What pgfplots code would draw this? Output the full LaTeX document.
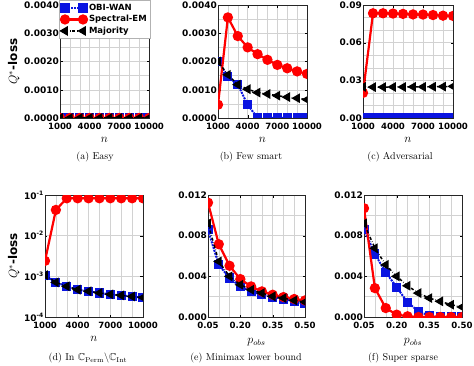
\documentclass[border=0pt]{standalone}
\usepackage{pgfplots}
\pgfplotsset{compat=1.18}
\usepackage{amssymb}
\usepackage{fontspec}
\newfontfamily\dvs{DejaVu Sans}
\definecolor{obiblue}{RGB}{10,20,225}
\pgfplotsset{
  panel/.style={scale only axis, anchor=north west,
    grid=both, grid style={gray!35,line width=0.4pt},
    minor grid style={gray!35,line width=0.4pt},
    axis line style={black!85,line width=0.6pt},
    tick align=inside, major tick length=2.5pt, minor tick length=0pt,
    tick style={black},
    tick label style={font=\dvs\bfseries\fontsize{9}{10}\selectfont},
    xticklabel style={inner sep=1pt, font=\dvs\bfseries\fontsize{8.6}{10}\selectfont, yshift=-4pt},
    yticklabel style={inner sep=1pt},
    /pgf/number format/assume math mode=true,
    scaled ticks=false,
    clip marker paths=true,
    xlabel style={font=\fontsize{12}{13}\selectfont, at={(axis description cs:0.5,0)}, anchor=center},
    ylabel style={font=\dvs\bfseries\fontsize{12}{13}\selectfont},
  },
  nax/.style={xmin=1000,xmax=10000, xtick={1000,4000,7000,10000},
    xticklabels={1000,4000,7000,10000}, minor x tick num=2, xlabel={$n$},
    xlabel style={yshift=-22pt}},
  pax/.style={xmin=0.05,xmax=0.5, xtick={0.05,0.2,0.35,0.5},
    xticklabels={0.05,0.20,0.35,0.50}, minor x tick num=2, xlabel={$p_{obs}$},
    xlabel style={yshift=-25pt},
    ymin=0,ymax=0.012, ytick={0,0.004,0.008,0.012},
    yticklabels={0.000,0.004,0.008,0.012}, minor y tick num=1},
  obi/.style={color=obiblue, densely dotted, line width=2pt, mark=square*, mark size=3.6pt, mark options={solid}},
  spec/.style={color=red, solid, line width=2.2pt, mark=*, mark size=4pt},
  maj/.style={color=black, dashdotted, line width=1.5pt, mark=triangle*, mark size=4.2pt, mark options={solid, rotate=90}},
}
\begin{document}
\begin{tikzpicture}
\useasboundingbox (0pt,0pt) rectangle (474pt,-365pt);
% (a)
\begin{axis}[panel, nax, at={(60pt,-5pt)}, width=89pt, height=113pt,
  ymin=0,ymax=0.004, ytick={0,0.001,0.002,0.003,0.004},
  yticklabels={0.0000,0.0010,0.0020,0.0030,0.0040}, minor y tick num=1,
  ylabel={$Q^{*}$-loss},
  legend image code/.code={\draw[mark repeat=1] plot coordinates {(0pt,0pt) (18pt,0pt)};},
  legend style={at={(-0.01,1.04)}, anchor=north west, font=\dvs\bfseries\fontsize{8.5}{9}\selectfont,
    draw=gray!60, fill=white, inner sep=1.5pt, row sep=-0.5pt},
  legend cell align=left]
\addplot[obi] coordinates {(1000,0)(2000,0)(3000,0)(4000,0)(5000,0)(6000,0)(7000,0)(8000,0)(9000,0)(10000,0)};
\addplot[spec] coordinates {(1000,0)(2000,0)(3000,0)(4000,0)(5000,0)(6000,0)(7000,0)(8000,0)(9000,0)(10000,0)};
\addplot[maj] coordinates {(1000,0)(2000,0)(3000,0)(4000,0)(5000,0)(6000,0)(7000,0)(8000,0)(9000,0)(10000,0)};
\legend{OBI-WAN,Spectral-EM,Majority}
\end{axis}
% (b)
\begin{axis}[panel, nax, at={(218pt,-5pt)}, width=89pt, height=113pt,
  ymin=0,ymax=0.004, ytick={0,0.001,0.002,0.003,0.004},
  yticklabels={0.0000,0.0010,0.0020,0.0030,0.0040}, minor y tick num=1]
\addplot[obi] coordinates {(1000,0.0020)(2000,0.00147)(3000,0.00118)(4000,0.00047)(5000,0)(6000,0)(7000,0)(8000,0)(9000,0)(10000,0)};
\addplot[spec] coordinates {(1000,0.00047)(2000,0.00356)(3000,0.0029)(4000,0.0025)(5000,0.00226)(6000,0.00206)(7000,0.00188)(8000,0.00176)(9000,0.00165)(10000,0.00156)};
\addplot[maj] coordinates {(1000,0.0020)(2000,0.00153)(3000,0.00118)(4000,0.00102)(5000,0.0009)(6000,0.00085)(7000,0.00079)(8000,0.00074)(9000,0.0007)(10000,0.00065)};
\end{axis}
% (c)
\begin{axis}[panel, nax, at={(363pt,-5pt)}, width=90pt, height=113pt,
  ymin=0,ymax=0.09, ytick={0,0.03,0.06,0.09},
  yticklabels={0.00,0.03,0.06,0.09}, minor y tick num=2]
\addplot[obi] coordinates {(1000,0)(2000,0)(3000,0)(4000,0)(5000,0)(6000,0)(7000,0)(8000,0)(9000,0)(10000,0)};
\addplot[spec] coordinates {(1000,0.020)(2000,0.0834)(3000,0.0834)(4000,0.0832)(5000,0.0829)(6000,0.0825)(7000,0.0824)(8000,0.082)(9000,0.0815)(10000,0.0813)};
\addplot[maj] coordinates {(1000,0.0248)(2000,0.0246)(3000,0.0246)(4000,0.0247)(5000,0.0247)(6000,0.0248)(7000,0.0248)(8000,0.0249)(9000,0.0250)(10000,0.0252)};
\end{axis}
% (d)
\begin{axis}[panel, nax, at={(45pt,-195pt)}, width=98pt, height=122pt,
  ymode=log, ymin=1e-4, ymax=1e-1, ytick={1e-4,1e-3,1e-2,1e-1},
  yticklabels={10\textsuperscript{-4},10\textsuperscript{-3},10\textsuperscript{-2},10\textsuperscript{-1}},
  yminorgrids=false, ylabel={$Q^{*}$-loss}]
\addplot[obi] coordinates {(1000,0.00107)(2000,0.00071)(3000,0.00057)(4000,0.00047)(5000,0.00043)(6000,0.00039)(7000,0.00036)(8000,0.00034)(9000,0.00032)(10000,0.0003)};
\addplot[spec] coordinates {(1000,0.0024)(2000,0.043)(3000,0.083)(4000,0.083)(5000,0.083)(6000,0.083)(7000,0.083)(8000,0.083)(9000,0.083)(10000,0.083)};
\addplot[maj] coordinates {(1000,0.00107)(2000,0.00071)(3000,0.00057)(4000,0.00047)(5000,0.00043)(6000,0.00039)(7000,0.00036)(8000,0.00034)(9000,0.00032)(10000,0.0003)};
\end{axis}
% (e)
\begin{axis}[panel, pax, at={(208pt,-195pt)}, width=97pt, height=122pt]
\addplot[obi] coordinates {(0.05,0.00857)(0.10,0.00513)(0.15,0.00383)(0.20,0.00301)(0.25,0.00252)(0.30,0.00219)(0.35,0.00196)(0.40,0.00177)(0.45,0.00154)(0.50,0.00131)};
\addplot[spec] coordinates {(0.05,0.01125)(0.10,0.00716)(0.15,0.00504)(0.20,0.00373)(0.25,0.00301)(0.30,0.00252)(0.35,0.00219)(0.40,0.00196)(0.45,0.00177)(0.50,0.00163)};
\addplot[maj] coordinates {(0.05,0.0092)(0.10,0.00546)(0.15,0.0040)(0.20,0.00317)(0.25,0.00268)(0.30,0.00235)(0.35,0.00203)(0.40,0.00186)(0.45,0.00163)(0.50,0.00147)};
\end{axis}
% (f)
\begin{axis}[panel, pax, at={(364pt,-195pt)}, width=98pt, height=122pt]
\addplot[obi] coordinates {(0.05,0.0086)(0.10,0.0062)(0.15,0.00438)(0.20,0.00294)(0.25,0.00144)(0.30,0.00056)(0.35,0.00013)(0.40,0)(0.45,0)(0.50,0)};
\addplot[spec] coordinates {(0.05,0.0107)(0.10,0.00284)(0.15,0.00088)(0.20,0.00023)(0.25,0.00007)(0.30,0)(0.35,0)(0.40,0)(0.45,0)(0.50,0)};
\addplot[maj] coordinates {(0.05,0.0092)(0.10,0.00677)(0.15,0.00513)(0.20,0.0040)(0.25,0.00307)(0.30,0.00235)(0.35,0.00186)(0.40,0.00154)(0.45,0.00121)(0.50,0.00098)};
\end{axis}
% captions
\node[font=\fontsize{10}{12}\selectfont] at (95pt,-157pt) {(a) Easy};
\node[font=\fontsize{10}{12}\selectfont] at (251pt,-157pt) {(b) Few smart};
\node[font=\fontsize{10}{12}\selectfont] at (400pt,-157pt) {(c) Adversarial};
\node[font=\fontsize{10}{12}\selectfont] at (88pt,-358pt) {(d) In $\mathbb{C}_{\mathrm{Perm}}\backslash\mathbb{C}_{\mathrm{Int}}$};
\node[font=\fontsize{10}{12}\selectfont] at (246pt,-358pt) {(e) Minimax lower bound};
\node[font=\fontsize{10}{12}\selectfont] at (403pt,-358pt) {(f) Super sparse};
\end{tikzpicture}
\end{document}
